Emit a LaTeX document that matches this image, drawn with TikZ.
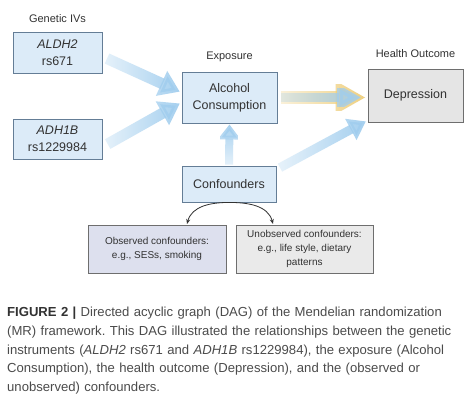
\documentclass[tikz,border=0pt]{standalone}
\usepackage{fontspec}
\setmainfont{Liberation Sans}
\usetikzlibrary{arrows.meta, fadings}

\tikzfading[name=fadeeast, left color=transparent!80, right color=transparent!0]
\tikzfading[name=fadenorth, bottom color=transparent!80, top color=transparent!0]

\begin{document}
\frenchspacing
\begin{tikzpicture}[x=1pt, y=1pt, >=Stealth]

\definecolor{softblue}{RGB}{220, 235, 248}
\definecolor{boxline}{RGB}{100, 125, 150}
\definecolor{softgray}{RGB}{229, 229, 229}
\definecolor{grayline}{RGB}{110, 110, 110}
\definecolor{softlavender}{RGB}{221, 224, 238}
\definecolor{arrowblue}{RGB}{160, 205, 238}
\definecolor{goldline}{RGB}{238, 205, 120}
\definecolor{textgray}{RGB}{50, 50, 50}
\definecolor{captiongray}{RGB}{75, 75, 75}

\tikzset{
  box/.style={draw=boxline, fill=softblue, line width=0.9pt, align=center, text=textgray,
    font=\fontsize{12.5}{17}\selectfont},
  smallbox/.style={draw=grayline, line width=0.9pt, align=center, text=textgray,
    minimum width=137pt, minimum height=48pt, font=\fontsize{10}{14}\selectfont},
  toplabel/.style={font=\fontsize{11}{13}\selectfont, text=textgray},
  fatarrow/.style={draw=arrowblue, line width=11pt, -{Triangle[length=20pt, width=26pt]}, path fading=fadeeast},
}

\fill[white] (0,0) rectangle (474,-404);
\useasboundingbox (0,0) rectangle (474,-404);

% Genetic instruments
\node[box, minimum width=89pt, minimum height=41pt,
  label={[toplabel, label distance=5pt]above:Genetic IVs}] (aldh) at (57.5,-52.5) {\textit{ALDH2}\\rs671};
\node[box, minimum width=89pt, minimum height=40pt] (adh) at (57.5,-139) {\textit{ADH1B}\\rs1229984};

% Exposure and outcome
\node[box, minimum width=95pt, minimum height=51pt,
  label={[toplabel, label distance=6pt]above:Exposure}] (alcohol) at (229.5,-97.5) {Alcohol\\Consumption};
\node[box, draw=grayline, fill=softgray, minimum width=95pt, minimum height=53pt,
  label={[toplabel, label distance=7pt]above:Health Outcome}] (depression) at (415.5,-95.5) {Depression};

% Confounders
\node[box, minimum width=94pt, minimum height=36pt] (conf) at (229,-184) {Confounders};
\node[smallbox, fill=softlavender, minimum width=138pt] (observed) at (157,-249) {Observed confounders:\\e.g., SESs, smoking};
\node[smallbox, fill=softgray!80!white] (unobserved) at (304.5,-249) {Unobserved confounders:\\e.g., life style, dietary\\patterns};

% Arrows into the exposure
\draw[fatarrow, shorten <=5pt, shorten >=2pt] ([yshift=-4pt]aldh.east) -- ([yshift=5pt]alcohol.west);
\draw[fatarrow, shorten <=6pt, shorten >=2pt] ([yshift=-8pt]adh.east) -- ([yshift=-5pt]alcohol.west);
\draw[fatarrow, line width=8pt, -{Triangle[length=15pt, width=22pt]}, path fading=fadenorth,
  shorten <=1pt, shorten >=1pt] (conf.north) -- (alcohol.south);
\draw[fatarrow, line width=9pt, -{Triangle[length=17pt, width=23pt]},
  shorten <=4pt, shorten >=2pt] ([yshift=-4pt]conf.north east) -- ([yshift=2pt]depression.south west);

% Exposure to outcome
\draw[line width=13pt, draw=goldline, -{Triangle[length=30pt, width=31pt]}, path fading=fadeeast,
  shorten <=4pt, shorten >=2pt] (alcohol.east) -- (alcohol.east -| depression.west);
\draw[line width=9pt, draw=arrowblue, -{Triangle[length=24pt, width=25pt]}, path fading=fadeeast,
  shorten <=4pt, shorten >=6.5pt] (alcohol.east) -- (alcohol.east -| depression.west);

% Split of the confounders
\coordinate (obstop) at (187,-224);
\coordinate (unobstop) at (273,-224);
\draw[-{Stealth[length=5pt, width=4pt]}, line width=0.8pt, textgray] (conf.south) to[out=180, in=75] (obstop);
\draw[-{Stealth[length=5pt, width=4pt]}, line width=0.8pt, textgray] (conf.south) to[out=0, in=105] (unobstop);

% Caption
\node[anchor=north west, inner sep=0pt, text width=466pt, align=left, text=captiongray,
  font=\fontsize{13.1}{18.7}\selectfont] (caption) at (7,-307)
  {{\color{textgray}\bfseries FIGURE 2 \textbar}\ Directed acyclic graph (DAG) of the Mendelian randomization\\
  (MR) framework. This DAG illustrated the relationships between the genetic\\
  instruments (\textit{ALDH2} rs671 and \textit{ADH1B} rs1229984), the exposure (Alcohol\\
  Consumption), the health outcome (Depression), and the (observed or\\
  unobserved) confounders.};

\end{tikzpicture}
\end{document}
